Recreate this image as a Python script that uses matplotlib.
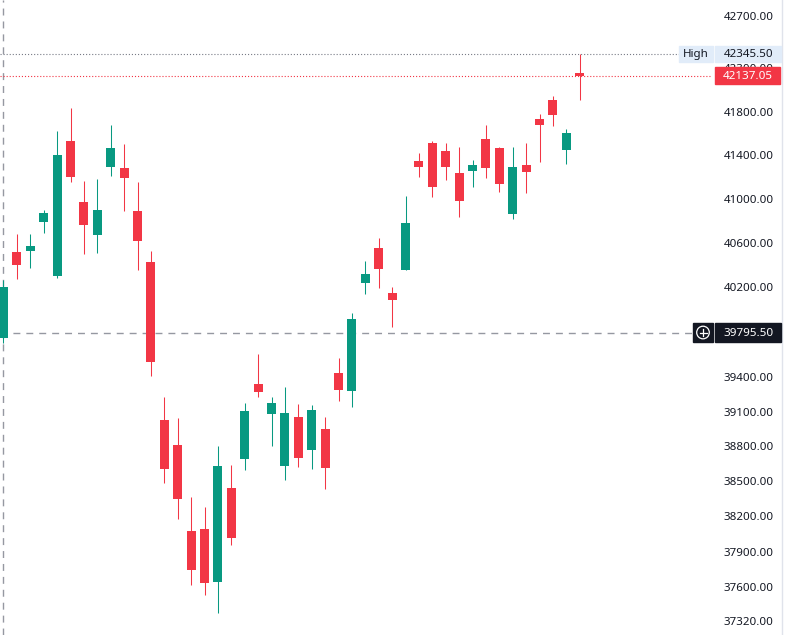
import numpy as np
import matplotlib
matplotlib.use("Agg")
import matplotlib.pyplot as plt
from matplotlib.patches import Rectangle, Circle

plt.rcParams['font.family'] = ['Noto Sans', 'DejaVu Sans']
plt.rcParams['lines.scale_dashes'] = False

opens = [39750, 40515, 40527, 40790, 40302, 41529, 40969, 40672, 41293, 41281, 40887,
         40426, 39028, 38811, 38075, 38092, 37648, 38442, 38693, 39342, 39083, 38633,
         39054, 38771, 38950, 39439, 39284, 40240, 40551, 40147, 40356, 41345, 41511,
         41437, 41235, 41256, 41548, 41465, 40863, 41308, 41733, 41910, 41449, 42164]
highs = [40264, 40678, 40678, 40896, 41622, 41835, 41161, 41180, 41677, 41502, 41152,
         40524, 39229, 39045, 38365, 38279, 38803, 38639, 39176, 39606, 39229, 39316,
         39167, 39159, 39054, 39571, 39969, 40435, 40642, 40201, 41024, 41418, 41529,
         41511, 41474, 41354, 41677, 41474, 41474, 41511, 41779, 41948, 41640, 42345.5]
lows = [39706, 40275, 40374, 40690, 40285, 41155, 40500, 40509, 41210, 40890, 40356,
        39415, 38487, 38180, 37620, 37539, 37389, 37959, 38599, 39231, 38805, 38513,
        38625, 38607, 38436, 39196, 39144, 40141, 40195, 39847, 40350, 41201, 41017,
        41173, 40835, 41109, 41192, 41063, 40817, 41054, 41338, 41671, 41320, 41913]
closes = [40204, 40401, 40569, 40869, 41400, 41201, 40763, 40896, 41465, 41192, 40617,
          39538, 38607, 38350, 37749, 37639, 38631, 38019, 39106, 39275, 39176, 39089,
          38702, 39115, 38616, 39292, 39916, 40318, 40365, 40088, 40778, 41293, 41109,
          41293, 40981, 41308, 41284, 41137, 41290, 41247, 41680, 41772, 41603, 42137.05]

tick_prices = [42700, 41800, 41400, 41000, 40600, 40200, 39400,
               39100, 38800, 38500, 38200, 37900, 37600, 37320]
hidden_tick = 42300
high_price = 42345.5
last_price = 42137.05
cross_price = 39795.5

green = '#089981'
red = '#f23645'
W, H = 786, 635

fig = plt.figure(figsize=(W / 100, H / 100), dpi=100)
ax = fig.add_axes([0, 0, 712 / W, 1])
ax.set_yscale('log')
ax.set_ylim(37204, 42853)
ax.set_xlim(-0.261, 52.87)
ax.axis('off')

x = np.arange(len(opens))
o = np.array(opens)
c = np.array(closes)
cols = [green if cc >= oo else red for oo, cc in zip(o, c)]
ax.vlines(x, lows, highs, colors=cols, linewidth=0.75, zorder=3)
ax.bar(x, np.maximum(np.abs(c - o), 4), bottom=np.minimum(o, c), width=0.672,
       color=cols, zorder=4)

# crosshair and price lines
ax.axvline(0, color='#9598a1', lw=1, ls=(0, (5, 4.3)), zorder=2)
ax.axhline(cross_price, xmax=692 / 712, color='#9598a1', lw=1, ls=(0, (5, 4.3)), zorder=2)
ax.axhline(high_price, xmax=679 / 712, color='#787b86', lw=0.8, ls=(0, (0.8, 1.4)), zorder=2)
ax.axhline(last_price, color=red, lw=0.8, ls=(0, (0.8, 1.4)), zorder=2)

# price scale overlay in pixel coordinates
lab = fig.add_axes([0, 0, 1, 1])
lab.set_xlim(0, W)
lab.set_ylim(H, 0)
lab.axis('off')
lab.patch.set_alpha(0)

fig.canvas.draw()


def ypx(p):
    return H - ax.transData.transform((0, p))[1]


for p in tick_prices:
    lab.text(773.5, ypx(p) + 1.5, f"{p:.2f}", ha='right', va='center', fontsize=8.3,
             color='#131722', zorder=1)
# mostly covered by the High / last price boxes
lab.text(773.5, ypx(hidden_tick) + 11, f"{hidden_tick:.2f}", ha='right', va='center',
         fontsize=8.3, color='#131722', zorder=1)

lab.plot([782, 782], [0, H], color='#e0e3eb', lw=1)

yh = ypx(high_price)
lab.add_patch(Rectangle((679, yh - 8), 34, 16, color='#e1ecf9', zorder=5))
lab.add_patch(Rectangle((715, yh - 8), 66, 16, color='#e1ecf9', zorder=5))
lab.text(696, yh + 0.5, "High", ha='center', va='center', fontsize=8.3, color='#131722', zorder=6)
lab.text(773.5, yh + 0.5, f"{high_price:.2f}", ha='right', va='center', fontsize=8.3,
         color='#131722', zorder=6)

yl = ypx(last_price)
lab.add_patch(Rectangle((715, yl - 8.5), 65, 17, color=red, zorder=5))
lab.text(748, yl + 0.5, f"{last_price:.2f}", ha='center', va='center', fontsize=8.4,
         color='white', fontweight='bold', zorder=6)

yc = ypx(cross_price)
lab.add_patch(Rectangle((693, yc - 9.5), 20, 19, color='#131722', zorder=5))
lab.add_patch(Rectangle((715, yc - 9.5), 66, 19, color='#131722', zorder=5))
lab.add_patch(Circle((703, yc), 6.3, fill=False, ec='white', lw=0.9, zorder=6))
lab.plot([699.5, 706.5], [yc, yc], color='white', lw=0.9, zorder=7)
lab.plot([703, 703], [yc - 3.5, yc + 3.5], color='white', lw=0.9, zorder=7)
lab.text(748, yc + 0.5, f"{cross_price:.2f}", ha='center', va='center', fontsize=8.4,
         color='white', fontweight='bold', zorder=6)

plt.savefig("out.png", dpi=100)
